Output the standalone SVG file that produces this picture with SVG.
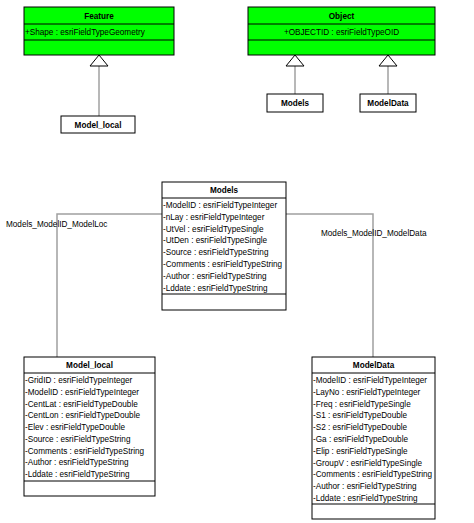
<svg xmlns="http://www.w3.org/2000/svg" width="474" height="523" viewBox="0 0 474 523">
<defs>
<style>
.box{fill:#fff;stroke:#000;stroke-width:1}
.gbox{fill:#00ff00;stroke:#000;stroke-width:1}
.sep{stroke:#000;stroke-width:1}
.t{font-family:"Liberation Sans",Arial,sans-serif;font-size:9px;fill:#000}
.h{font-family:"Liberation Sans",Arial,sans-serif;font-size:9px;font-weight:bold;fill:#000;text-anchor:middle}
.conn{fill:none;stroke:#a0a0a0;stroke-width:1.5}
.tri{fill:#fff;stroke:#000;stroke-width:1}
</style>
</defs>
<rect width="474" height="523" fill="#fff"/>
<g id="connectors">
<line class="conn" x1="99" y1="66" x2="99" y2="116"/>
<polygon class="tri" points="99,55 90,66 108,66"/>
<line class="conn" x1="295" y1="66" x2="295" y2="94"/>
<polygon class="tri" points="295,55 286,66 304,66"/>
<line class="conn" x1="388" y1="66" x2="388" y2="94"/>
<polygon class="tri" points="388,55 379,66 397,66"/>
<polyline class="conn" points="162,214 57,214 57,357"/>
<polyline class="conn" points="286,214 373,214 373,357"/>
<text class="t" x="6" y="227" transform="matrix(0.91 0 0 1 0.54 0)">Models_ModelID_ModelLoc</text>
<text class="t" x="321" y="236" transform="matrix(0.91 0 0 1 28.89 0)">Models_ModelID_ModelData</text>
</g>
<g id="Feature">
<rect class="gbox" x="24" y="7" width="150" height="48"/>
<line class="sep" x1="24" y1="24" x2="174" y2="24"/>
<line class="sep" x1="24" y1="40" x2="174" y2="40"/>
<text class="h" x="99" y="19" transform="matrix(0.91 0 0 1 8.91 0)">Feature</text>
<text class="t" x="25" y="35" transform="matrix(0.91 0 0 1 2.25 0)">+Shape : esriFieldTypeGeometry</text>
</g>
<g id="Object">
<rect class="gbox" x="248" y="7" width="187" height="48"/>
<line class="sep" x1="248" y1="24" x2="435" y2="24"/>
<line class="sep" x1="248" y1="40" x2="435" y2="40"/>
<g transform="matrix(0.91 0 0 1 30.735 0)">
<text class="h" x="341.5" y="19">Object</text>
<text class="t" x="341.5" y="35" text-anchor="middle">+OBJECTID : esriFieldTypeOID</text>
</g>
</g>
<g id="Model_local_small">
<rect class="box" x="61" y="116" width="74" height="17"/>
<text class="h" x="98" y="128" transform="matrix(0.91 0 0 1 8.82 0)">Model_local</text>
</g>
<g id="Models_small">
<rect class="box" x="267" y="94" width="56" height="18"/>
<text class="h" x="295" y="106" transform="matrix(0.91 0 0 1 26.55 0)">Models</text>
</g>
<g id="ModelData_small">
<rect class="box" x="360" y="94" width="56" height="18"/>
<text class="h" x="388" y="106" transform="matrix(0.91 0 0 1 34.92 0)">ModelData</text>
</g>
<g id="Models">
<rect class="box" x="162" y="182" width="124" height="128"/>
<line class="sep" x1="162" y1="198" x2="286" y2="198"/>
<line class="sep" x1="162" y1="294" x2="286" y2="294"/>
<text class="h" x="224" y="193" transform="matrix(0.91 0 0 1 20.16 0)">Models</text>
<g transform="matrix(0.91 0 0 1 14.67 0)">
<text class="t" x="163" y="208">-ModelID : esriFieldTypeInteger</text>
<text class="t" x="163" y="220">-nLay : esriFieldTypeInteger</text>
<text class="t" x="163" y="232">-UtVel : esriFieldTypeSingle</text>
<text class="t" x="163" y="243">-UtDen : esriFieldTypeSingle</text>
<text class="t" x="163" y="255">-Source : esriFieldTypeString</text>
<text class="t" x="163" y="267">-Comments : esriFieldTypeString</text>
<text class="t" x="163" y="279">-Author : esriFieldTypeString</text>
<text class="t" x="163" y="291">-Lddate : esriFieldTypeString</text>
</g>
</g>
<g id="Model_local">
<rect class="box" x="24" y="357" width="131" height="139"/>
<line class="sep" x1="24" y1="373" x2="155" y2="373"/>
<line class="sep" x1="24" y1="481" x2="155" y2="481"/>
<text class="h" x="89.5" y="368" transform="matrix(0.91 0 0 1 8.055 0)">Model_local</text>
<g transform="matrix(0.91 0 0 1 2.25 0)">
<text class="t" x="25" y="383">-GridID : esriFieldTypeInteger</text>
<text class="t" x="25" y="395">-ModelID : esriFieldTypeInteger</text>
<text class="t" x="25" y="407">-CentLat : esriFieldTypeDouble</text>
<text class="t" x="25" y="418">-CentLon : esriFieldTypeDouble</text>
<text class="t" x="25" y="430">-Elev : esriFieldTypeDouble</text>
<text class="t" x="25" y="442">-Source : esriFieldTypeString</text>
<text class="t" x="25" y="454">-Comments : esriFieldTypeString</text>
<text class="t" x="25" y="465">-Author : esriFieldTypeString</text>
<text class="t" x="25" y="477">-Lddate : esriFieldTypeString</text>
</g>
</g>
<g id="ModelData">
<rect class="box" x="312" y="357" width="123" height="162"/>
<line class="sep" x1="312" y1="373" x2="435" y2="373"/>
<line class="sep" x1="312" y1="504" x2="435" y2="504"/>
<text class="h" x="373.5" y="368" transform="matrix(0.91 0 0 1 33.615 0)">ModelData</text>
<g transform="matrix(0.91 0 0 1 28.17 0)">
<text class="t" x="313" y="383">-ModelID : esriFieldTypeInteger</text>
<text class="t" x="313" y="395">-LayNo : esriFieldTypeInteger</text>
<text class="t" x="313" y="407">-Freq : esriFieldTypeSingle</text>
<text class="t" x="313" y="418">-S1 : esriFieldTypeDouble</text>
<text class="t" x="313" y="430">-S2 : esriFieldTypeDouble</text>
<text class="t" x="313" y="442">-Ga : esriFieldTypeDouble</text>
<text class="t" x="313" y="454">-Elip : esriFieldTypeSingle</text>
<text class="t" x="313" y="466">-GroupV : esriFieldTypeSingle</text>
<text class="t" x="313" y="477">-Comments : esriFieldTypeString</text>
<text class="t" x="313" y="489">-Author : esriFieldTypeString</text>
<text class="t" x="313" y="501">-Lddate : esriFieldTypeString</text>
</g>
</g>
</svg>
